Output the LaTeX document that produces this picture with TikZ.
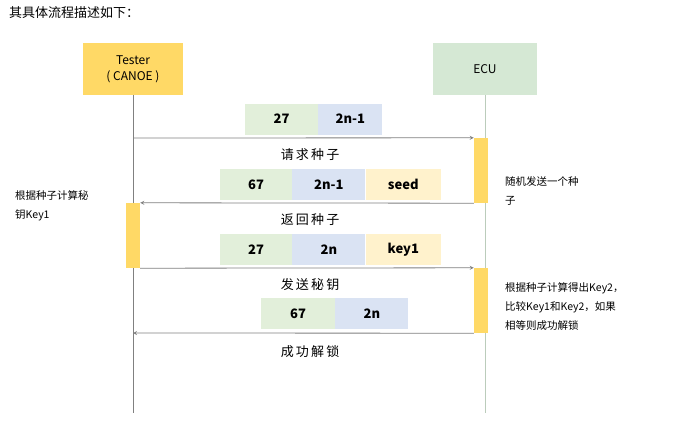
\documentclass[tikz,border=0pt]{standalone}
\usepackage{fontspec}
\setmainfont{Noto Sans CJK SC}
\usetikzlibrary{positioning}
\begin{document}
\begin{tikzpicture}[x=1pt,y=-1pt,>=stealth,
  actor/.style={minimum width=100pt,minimum height=52pt,inner sep=0pt,font=\fontsize{12}{16}\selectfont,align=center},
  cell/.style={minimum height=31pt,inner sep=0pt,font=\fontsize{13}{15}\selectfont\bfseries},
  bar/.style={fill=barcol,minimum width=14pt,inner sep=0pt},
  msg/.style={->,gray,thick},
  lbl/.style={font=\fontsize{13}{15}\selectfont},
  note/.style={font=\fontsize{10.5}{19}\selectfont,align=left,anchor=north west,inner sep=0pt}]
  \useasboundingbox (0,0) rectangle (687,436);
  \definecolor{cgreen}{HTML}{E2EFDA}
  \definecolor{cblue}{HTML}{DAE3F3}
  \definecolor{cyel}{HTML}{FFF2CC}
  \definecolor{barcol}{HTML}{FFD966}
  \definecolor{ecucol}{HTML}{D5E8D4}
  \node[anchor=west,inner sep=0pt,font=\fontsize{13}{15}\selectfont] (title) at (9,13) {其具体流程描述如下：};

  \node[actor,fill=barcol] (tester) at (133,69) {Tester\\( CANOE )};
  \node[actor,fill=ecucol,minimum width=104pt] (ecu) at (485,69) {ECU};
  \coordinate (tend) at (133,413);
  \coordinate (eend) at (485,413);
  \draw[gray,thick] (tester.south) -- (tend);
  \draw[ecucol!80!black!60!ecucol,thick] (ecu.south) -- (eend);

  % activation bars
  \node[bar,minimum height=65pt] (ebar1) at (481,170.5) {};
  \node[bar,minimum height=65pt] (tbar) at (133,235.5) {};
  \node[bar,minimum height=65pt] (ebar2) at (481,300.5) {};

  % frames
  \node[cell,fill=cgreen,minimum width=73pt] (r1a) at (281.5,119) {27};
  \node[cell,fill=cblue,minimum width=64pt,right=0pt of r1a] (r1b) {2n-1};
  \node[cell,fill=cgreen,minimum width=72pt] (r2a) at (256,184.5) {67};
  \node[cell,fill=cblue,minimum width=73pt,right=0pt of r2a] (r2b) {2n-1};
  \node[cell,fill=cyel,minimum width=75pt,right=0pt of r2b] (r2c) {seed};
  \node[cell,fill=cgreen,minimum width=72pt] (r3a) at (256,249.5) {27};
  \node[cell,fill=cblue,minimum width=73pt,right=0pt of r3a] (r3b) {2n};
  \node[cell,fill=cyel,minimum width=75pt,right=0pt of r3b] (r3c) {key1};
  \node[cell,fill=cgreen,minimum width=74pt] (r4a) at (298,313.5) {67};
  \node[cell,fill=cblue,minimum width=73pt,right=0pt of r4a] (r4b) {2n};

  % messages
  \coordinate (m1s) at (133,138);
  \coordinate (m4e) at (133,333);
  \draw[msg] (m1s) -- (ebar1.north west);
  \draw[msg] (ebar1.south west) -- (tbar.north east);
  \draw[msg] (tbar.south east) -- (ebar2.north west);
  \draw[msg] (ebar2.south west) -- (m4e);
  \node[lbl] (l1) at (310,155) {请\,求\,种\,子};
  \node[lbl] (l2) at (310,220) {返\,回\,种\,子};
  \node[lbl] (l3) at (310,285) {发\,送\,秘\,钥};
  \node[lbl] (l4) at (310,352) {成\,功\,解\,锁};

  % notes
  \node[note] (n1) at (505,176) {随机发送一个种\\子};
  \node[note] (n2) at (15,190) {根据种子计算秘\\钥Key1};
  \node[note] (n3) at (505,282) {根据种子计算得出Key2，\\比较Key1和Key2，如果\\相等则成功解锁};
\end{tikzpicture}
\end{document}
